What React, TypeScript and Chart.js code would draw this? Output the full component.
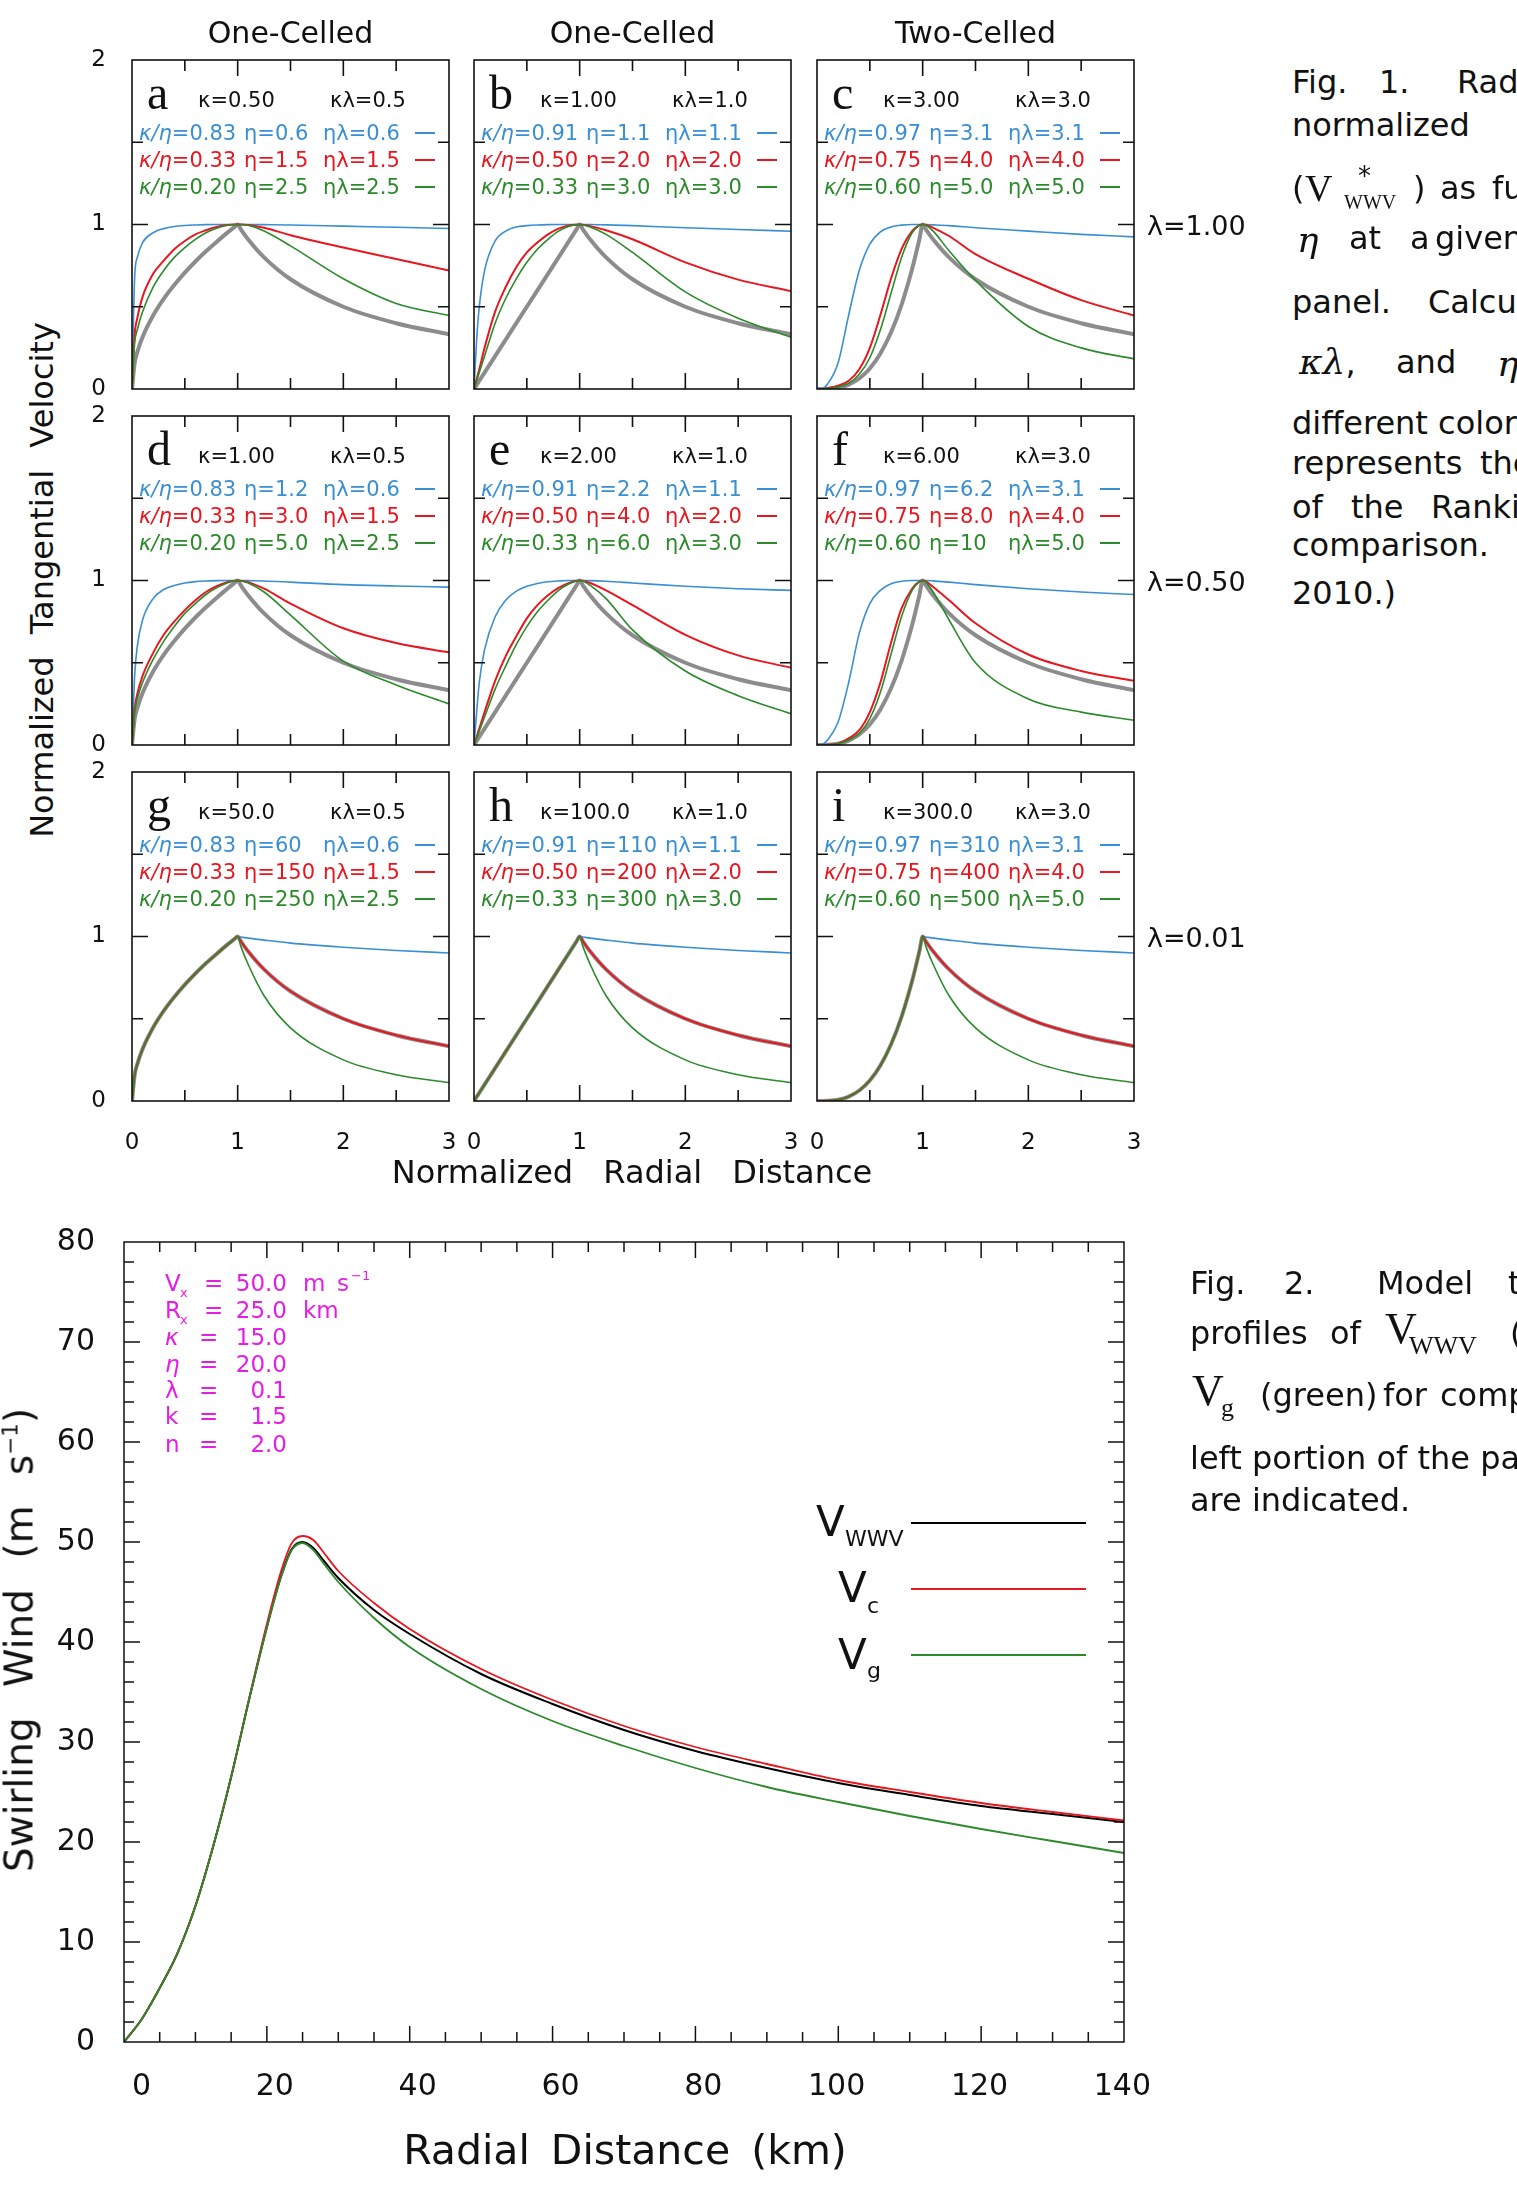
import React, { useEffect, useRef } from 'react';
import { Chart, registerables } from 'chart.js';
Chart.register(...registerables);

const SANS = '"DejaVu Sans", "Noto Sans", sans-serif';
const SERIF = '"Liberation Serif", "DejaVu Serif", serif';
const DSERIF = '"DejaVu Serif", "Liberation Serif", serif';
const BLUE = '#3a8fd2';
const RED = '#e8161e';
const GREEN = '#2c8a2c';
const GRAY = '#8c8c8c';
const MAGENTA = '#e41ee4';
const INK = '#111111';

// ---------- Fig. 1 data (normalized radius grid) ----------
const R_GRID = [0, 0.025, 0.05, 0.1, 0.2, 0.3, 0.4, 0.5, 0.6, 0.7, 0.8, 0.9, 0.97, 1, 1.03, 1.1, 1.25, 1.5, 2, 2.5, 3];

const GRAY_A = [0, 0.158, 0.224, 0.316, 0.447, 0.548, 0.632, 0.707, 0.775, 0.837, 0.894, 0.949, 0.985, 1, 0.971, 0.909, 0.8, 0.667, 0.5, 0.4, 0.333];
const GRAY_B = [0, 0.025, 0.05, 0.1, 0.2, 0.3, 0.4, 0.5, 0.6, 0.7, 0.8, 0.9, 0.97, 1, 0.971, 0.909, 0.8, 0.667, 0.5, 0.4, 0.333];
const GRAY_C = [0, 0, 0, 0.001, 0.008, 0.027, 0.064, 0.125, 0.216, 0.343, 0.512, 0.729, 0.913, 1, 0.971, 0.909, 0.8, 0.667, 0.5, 0.4, 0.333];

const A_BLUE = [0, 0.68, 0.8, 0.89, 0.95, 0.975, 0.988, 0.994, 0.997, 0.999, 1, 1, 1, 1, 1, 1, 0.999, 0.997, 0.99, 0.983, 0.976];
const A_RED = [0, 0.33, 0.43, 0.56, 0.7, 0.78, 0.85, 0.9, 0.94, 0.965, 0.985, 0.997, 1, 1, 1, 0.997, 0.98, 0.935, 0.86, 0.79, 0.72];
const A_GREEN = [0, 0.28, 0.36, 0.47, 0.62, 0.72, 0.8, 0.86, 0.91, 0.95, 0.977, 0.995, 1, 1, 1, 0.995, 0.96, 0.87, 0.67, 0.52, 0.447];

const B_BLUE = [0, 0.3, 0.5, 0.72, 0.9, 0.96, 0.985, 0.993, 0.997, 0.999, 1, 1, 1, 1, 1, 1, 0.998, 0.993, 0.98, 0.97, 0.959];
const B_RED = [0, 0.06, 0.12, 0.25, 0.47, 0.62, 0.74, 0.83, 0.89, 0.94, 0.975, 0.994, 0.999, 1, 0.999, 0.99, 0.965, 0.91, 0.77, 0.665, 0.595];
const B_GREEN = [0, 0.05, 0.1, 0.2, 0.4, 0.55, 0.67, 0.77, 0.85, 0.91, 0.96, 0.99, 0.999, 1, 0.998, 0.985, 0.94, 0.83, 0.59, 0.43, 0.315];

const C_BLUE = [0, 0, 0.002, 0.03, 0.16, 0.45, 0.72, 0.88, 0.955, 0.985, 0.996, 1, 1, 1, 1, 0.998, 0.993, 0.98, 0.96, 0.94, 0.925];
const C_RED = [0, 0, 0, 0.005, 0.02, 0.05, 0.12, 0.25, 0.45, 0.67, 0.85, 0.96, 0.996, 1, 0.998, 0.98, 0.93, 0.82, 0.67, 0.54, 0.447];
const C_GREEN = [0, 0, 0, 0.003, 0.012, 0.035, 0.09, 0.19, 0.36, 0.58, 0.8, 0.95, 0.995, 1, 0.995, 0.96, 0.84, 0.66, 0.38, 0.25, 0.183];

const D_BLUE = [0, 0.42, 0.6, 0.76, 0.89, 0.945, 0.97, 0.985, 0.993, 0.997, 0.999, 1, 1, 1, 1, 0.999, 0.997, 0.99, 0.975, 0.967, 0.96];
const D_RED = [0, 0.22, 0.31, 0.42, 0.56, 0.67, 0.75, 0.82, 0.88, 0.93, 0.965, 0.99, 0.999, 1, 0.999, 0.99, 0.95, 0.86, 0.71, 0.62, 0.563];
const D_GREEN = [0, 0.2, 0.28, 0.38, 0.52, 0.63, 0.72, 0.8, 0.86, 0.915, 0.955, 0.985, 0.998, 1, 0.998, 0.985, 0.93, 0.79, 0.51, 0.365, 0.25];

const E_BLUE = [0, 0.2, 0.38, 0.58, 0.78, 0.88, 0.935, 0.965, 0.982, 0.992, 0.997, 1, 1, 1, 1, 0.999, 0.995, 0.985, 0.965, 0.95, 0.94];
const E_RED = [0, 0.05, 0.1, 0.2, 0.39, 0.54, 0.66, 0.77, 0.85, 0.91, 0.955, 0.985, 0.998, 1, 0.998, 0.985, 0.94, 0.85, 0.67, 0.545, 0.47];
const E_GREEN = [0, 0.042, 0.085, 0.17, 0.34, 0.48, 0.61, 0.72, 0.81, 0.88, 0.94, 0.98, 0.997, 1, 0.997, 0.97, 0.89, 0.7, 0.45, 0.3, 0.19];

const F_BLUE = [0, 0, 0.003, 0.03, 0.14, 0.38, 0.68, 0.86, 0.94, 0.98, 0.995, 1, 1, 1, 1, 0.998, 0.99, 0.975, 0.95, 0.93, 0.915];
const F_RED = [0, 0, 0, 0.002, 0.01, 0.04, 0.09, 0.2, 0.38, 0.62, 0.83, 0.95, 0.995, 1, 0.995, 0.96, 0.88, 0.74, 0.55, 0.45, 0.39];
const F_GREEN = [0, 0, 0, 0.001, 0.007, 0.03, 0.07, 0.16, 0.32, 0.55, 0.78, 0.94, 0.993, 1, 0.99, 0.93, 0.76, 0.5, 0.28, 0.2, 0.15];

const G_BLUE = [0, 0.158, 0.224, 0.316, 0.447, 0.548, 0.632, 0.707, 0.775, 0.837, 0.894, 0.949, 0.985, 1, 0.997, 0.99, 0.978, 0.96, 0.935, 0.915, 0.9];
const G_RED = [0, 0.158, 0.224, 0.316, 0.447, 0.548, 0.632, 0.707, 0.775, 0.837, 0.894, 0.949, 0.985, 1, 0.971, 0.909, 0.8, 0.667, 0.5, 0.4, 0.333];
const G_GREEN = [0, 0.158, 0.224, 0.316, 0.447, 0.548, 0.632, 0.707, 0.775, 0.837, 0.894, 0.949, 0.985, 1, 0.94, 0.83, 0.64, 0.445, 0.25, 0.16, 0.112];

const H_BLUE = [0, 0.025, 0.05, 0.1, 0.2, 0.3, 0.4, 0.5, 0.6, 0.7, 0.8, 0.9, 0.97, 1, 0.997, 0.99, 0.978, 0.96, 0.935, 0.915, 0.9];
const H_RED = [0, 0.025, 0.05, 0.1, 0.2, 0.3, 0.4, 0.5, 0.6, 0.7, 0.8, 0.9, 0.97, 1, 0.971, 0.909, 0.8, 0.667, 0.5, 0.4, 0.333];
const H_GREEN = [0, 0.025, 0.05, 0.1, 0.2, 0.3, 0.4, 0.5, 0.6, 0.7, 0.8, 0.9, 0.97, 1, 0.94, 0.83, 0.64, 0.445, 0.25, 0.16, 0.112];

const I_BLUE = [0, 0, 0, 0.001, 0.008, 0.027, 0.064, 0.125, 0.216, 0.343, 0.512, 0.729, 0.913, 1, 0.997, 0.99, 0.978, 0.96, 0.935, 0.915, 0.9];
const I_RED = [0, 0, 0, 0.001, 0.008, 0.027, 0.064, 0.125, 0.216, 0.343, 0.512, 0.729, 0.913, 1, 0.971, 0.909, 0.8, 0.667, 0.5, 0.4, 0.333];
const I_GREEN = [0, 0, 0, 0.001, 0.008, 0.027, 0.064, 0.125, 0.216, 0.343, 0.512, 0.729, 0.913, 1, 0.94, 0.83, 0.64, 0.445, 0.25, 0.16, 0.112];

const PANEL_CURVES = [
  [GRAY_A, A_BLUE, A_RED, A_GREEN],
  [GRAY_B, B_BLUE, B_RED, B_GREEN],
  [GRAY_C, C_BLUE, C_RED, C_GREEN],
  [GRAY_A, D_BLUE, D_RED, D_GREEN],
  [GRAY_B, E_BLUE, E_RED, E_GREEN],
  [GRAY_C, F_BLUE, F_RED, F_GREEN],
  [GRAY_A, G_BLUE, G_RED, G_GREEN],
  [GRAY_B, H_BLUE, H_RED, H_GREEN],
  [GRAY_C, I_BLUE, I_RED, I_GREEN],
];

const PANEL_LETTERS = ['a', 'b', 'c', 'd', 'e', 'f', 'g', 'h', 'i'];
const PANEL_KAPPA = ['0.50', '1.00', '3.00', '1.00', '2.00', '6.00', '50.0', '100.0', '300.0'];
const PANEL_KL = ['0.5', '1.0', '3.0', '0.5', '1.0', '3.0', '0.5', '1.0', '3.0'];
const COL_K_ETA = [['0.83', '0.33', '0.20'], ['0.91', '0.50', '0.33'], ['0.97', '0.75', '0.60']];
const COL_ETA_L = [['0.6', '1.5', '2.5'], ['1.1', '2.0', '3.0'], ['3.1', '4.0', '5.0']];
const PANEL_ETA = [
  ['0.6', '1.5', '2.5'], ['1.1', '2.0', '3.0'], ['3.1', '4.0', '5.0'],
  ['1.2', '3.0', '5.0'], ['2.2', '4.0', '6.0'], ['6.2', '8.0', '10'],
  ['60', '150', '250'], ['110', '200', '300'], ['310', '400', '500'],
];
const ROW_LAMBDA = ['1.00', '0.50', '0.01'];
const COL_TITLES = ['One-Celled', 'One-Celled', 'Two-Celled'];

// ---------- Fig. 2 data ----------
const R_KM = [0, 2.5, 5, 7.5, 10, 12.5, 15, 17.5, 20, 22, 23.5, 25, 26.5, 28, 30, 35, 40, 50, 60, 70, 80, 90, 100, 110, 120, 130, 140];
const V_WWV = [0, 2.3, 5.4, 8.9, 13.6, 19.6, 26.5, 34.2, 41.5, 46.6, 49.3, 50.0, 49.4, 48.1, 46.4, 43.2, 40.8, 36.8, 33.8, 31.2, 29.1, 27.4, 25.9, 24.7, 23.6, 22.8, 22.0];
const V_C = [0, 2.3, 5.4, 8.9, 13.6, 19.6, 26.5, 34.3, 41.8, 47.1, 49.9, 50.6, 50.2, 48.9, 47.1, 43.9, 41.3, 37.3, 34.2, 31.6, 29.5, 27.8, 26.2, 25.0, 23.9, 23.0, 22.15];
const V_G = [0, 2.3, 5.4, 8.9, 13.6, 19.6, 26.5, 34.2, 41.4, 46.5, 49.2, 49.9, 49.2, 47.8, 46.0, 42.4, 39.5, 35.3, 32.1, 29.6, 27.4, 25.5, 24.0, 22.6, 21.3, 20.1, 18.9];
const PARAM_SYMBOLS = ['V', 'R', 'κ', 'η', 'λ', 'k', 'n'];
const PARAM_VALUES = ['50.0', '25.0', '15.0', '20.0', '0.1', '1.5', '2.0'];

// ---------- layout ----------
const COLS_X = [132, 474, 817];
const ROWS_Y = [60, 416, 772];
const PW = 317;
const PH = 329;

function frameTicks(xMaj: number[], xMin: number[], yMaj: number[], yMin: number[], lMaj: number, lMin: number, lw: number) {
  return {
    id: 'frameTicks',
    afterDatasetsDraw(chart: any) {
      const { ctx, chartArea: a } = chart;
      const xs = chart.scales.x;
      const ys = chart.scales.y;
      ctx.save();
      ctx.strokeStyle = INK;
      ctx.lineWidth = lw;
      ctx.beginPath();
      const tx = (v: number, L: number) => {
        const p = xs.getPixelForValue(v);
        ctx.moveTo(p, a.bottom); ctx.lineTo(p, a.bottom - L);
        ctx.moveTo(p, a.top); ctx.lineTo(p, a.top + L);
      };
      const ty = (v: number, L: number) => {
        const p = ys.getPixelForValue(v);
        ctx.moveTo(a.left, p); ctx.lineTo(a.left + L, p);
        ctx.moveTo(a.right, p); ctx.lineTo(a.right - L, p);
      };
      xMaj.forEach((v) => tx(v, lMaj));
      xMin.forEach((v) => tx(v, lMin));
      yMaj.forEach((v) => ty(v, lMaj));
      yMin.forEach((v) => ty(v, lMin));
      ctx.stroke();
      ctx.strokeRect(a.left, a.top, a.right - a.left, a.bottom - a.top);
      ctx.restore();
    },
  };
}

function ChartCanvas({ left, top, width, height, make }: { left: number; top: number; width: number; height: number; make: () => any }) {
  const ref = useRef<HTMLCanvasElement>(null);
  useEffect(() => {
    const chart = new Chart(ref.current as HTMLCanvasElement, make());
    return () => chart.destroy();
  }, []);
  return <canvas ref={ref} width={width} height={height} style={{ position: 'absolute', left, top, width, height }} />;
}

function panelConfig(curves: number[][], showX: boolean, showY: boolean, L: number, T: number, R: number, B: number) {
  const styles = [
    { c: GRAY, w: 4 },
    { c: BLUE, w: 1.6 },
    { c: RED, w: 2 },
    { c: GREEN, w: 1.6 },
  ];
  // Chart.js paints the first dataset on top, so list green first and gray last.
  const order = [3, 2, 1, 0];
  return {
    type: 'line',
    data: {
      datasets: order.map((k) => ({
        data: R_GRID.map((x, i) => ({ x, y: curves[k][i] })),
        borderColor: styles[k].c,
        borderWidth: styles[k].w,
        pointRadius: 0,
        fill: false,
        cubicInterpolationMode: 'monotone',
      })),
    },
    options: {
      responsive: false,
      animation: false,
      devicePixelRatio: 1,
      layout: { padding: { left: 0, top: T, right: R, bottom: 0 } },
      plugins: { legend: { display: false }, tooltip: { enabled: false } },
      scales: {
        x: {
          type: 'linear', min: 0, max: 3,
          grid: { display: false, drawTicks: false }, border: { display: false },
          ticks: { display: showX, stepSize: 1, padding: 28, color: INK, font: { family: SANS, size: 23 } },
          afterFit: (s: any) => { s.height = B; },
        },
        y: {
          type: 'linear', min: 0, max: 2,
          grid: { display: false, drawTicks: false }, border: { display: false },
          ticks: { display: showY, stepSize: 1, padding: 26, color: INK, font: { family: SANS, size: 23 } },
          afterFit: (s: any) => { s.width = L; },
        },
      },
    },
    plugins: [frameTicks([1, 2], [0.5, 1.5, 2.5], [1], [0.5, 1.5], 16, 11, 1.6)],
  };
}

function fig2Config(L: number, T: number, R: number, B: number) {
  const xMaj: number[] = [];
  const xMin: number[] = [];
  for (let v = 5; v < 140; v += 5) (v % 20 === 0 ? xMaj : xMin).push(v);
  const yMaj: number[] = [];
  const yMin: number[] = [];
  for (let v = 2; v < 80; v += 2) (v % 10 === 0 ? yMaj : yMin).push(v);
  // first dataset is painted on top
  const sets = [
    { d: V_G, c: GREEN, w: 1.8 },
    { d: V_C, c: RED, w: 1.8 },
    { d: V_WWV, c: '#000000', w: 2 },
  ];
  return {
    type: 'line',
    data: {
      datasets: sets.map((s) => ({
        data: R_KM.map((x, i) => ({ x, y: s.d[i] })),
        borderColor: s.c,
        borderWidth: s.w,
        pointRadius: 0,
        fill: false,
        cubicInterpolationMode: 'monotone',
      })),
    },
    options: {
      responsive: false,
      animation: false,
      devicePixelRatio: 1,
      layout: { padding: { left: 0, top: T, right: R, bottom: 0 } },
      plugins: { legend: { display: false }, tooltip: { enabled: false } },
      scales: {
        x: {
          type: 'linear', min: 0, max: 140,
          grid: { display: false, drawTicks: false }, border: { display: false },
          ticks: { stepSize: 20, align: 'end', labelOffset: 27, padding: 27, color: INK, font: { family: SANS, size: 30 } },
          afterFit: (s: any) => { s.height = B; },
        },
        y: {
          type: 'linear', min: 0, max: 80,
          grid: { display: false, drawTicks: false }, border: { display: false },
          ticks: { stepSize: 10, padding: 29, color: INK, font: { family: SANS, size: 30 } },
          afterFit: (s: any) => { s.width = L; },
        },
      },
    },
    plugins: [frameTicks(xMaj, xMin, yMaj, yMin, 16, 10, 1.5)],
  };
}

type TxProps = { x: number; y: number; s: number; children: React.ReactNode; c?: string; f?: string; a?: 'l' | 'c' | 'r'; it?: boolean; ls?: number; ws?: number };
function Tx({ x, y, s, children, c = INK, f = SANS, a = 'l', it = false, ls, ws }: TxProps) {
  const tr = a === 'c' ? 'translateX(-50%)' : a === 'r' ? 'translateX(-100%)' : undefined;
  return (
    <div style={{ position: 'absolute', left: x, top: y - s / 2, fontSize: s, lineHeight: `${s}px`, fontFamily: f, color: c, whiteSpace: 'nowrap', fontStyle: it ? 'italic' : 'normal', letterSpacing: ls, wordSpacing: ws, transform: tr }}>
      {children}
    </div>
  );
}

function VTx({ x, y, s, children, ls, ws }: { x: number; y: number; s: number; children: React.ReactNode; ls?: number; ws?: number }) {
  return (
    <div style={{ position: 'absolute', left: x, top: y, fontSize: s, lineHeight: `${s}px`, fontFamily: SANS, color: INK, whiteSpace: 'nowrap', letterSpacing: ls, wordSpacing: ws, transform: 'translate(-50%, -50%) rotate(-90deg)' }}>
      {children}
    </div>
  );
}

function Dash({ x, y, w, h, c }: { x: number; y: number; w: number; h: number; c: string }) {
  return <div style={{ position: 'absolute', left: x, top: y - h / 2, width: w, height: h, background: c }} />;
}

function PanelText({ idx }: { idx: number }) {
  const row = Math.floor(idx / 3);
  const col = idx % 3;
  const px = COLS_X[col];
  const py = ROWS_Y[row];
  const colors = [BLUE, RED, GREEN];
  return (
    <>
      <Tx x={px + 15} y={py + 49 - 0.3375 * 48} s={48} f={SERIF}>{PANEL_LETTERS[idx]}</Tx>
      <Tx x={px + 66} y={py + 40} s={21}>κ={PANEL_KAPPA[idx]}</Tx>
      <Tx x={px + 198} y={py + 40} s={21}>κλ={PANEL_KL[idx]}</Tx>
      {colors.map((c, k) => (
        <React.Fragment key={k}>
          <Tx x={px + 7} y={py + 73 + 27 * k} s={21} c={c}><span style={{ fontStyle: 'italic' }}>κ/η</span>={COL_K_ETA[col][k]}</Tx>
          <Tx x={px + 112} y={py + 73 + 27 * k} s={21} c={c}>η={PANEL_ETA[idx][k]}</Tx>
          <Tx x={px + 191} y={py + 73 + 27 * k} s={21} c={c}>ηλ={COL_ETA_L[col][k]}</Tx>
          <Dash x={px + 283} y={py + 73 + 27 * k} w={20} h={row === 2 && k === 2 ? 1.2 : 2.2} c={c} />
        </React.Fragment>
      ))}
    </>
  );
}

export default function App() {
  const panels = [];
  for (let idx = 0; idx < 9; idx++) {
    const row = Math.floor(idx / 3);
    const col = idx % 3;
    const L = col === 0 ? 60 : 45;
    const T = 48;
    const R = 45;
    const B = row === 2 ? 75 : 48;
    const left = COLS_X[col] - L;
    const top = ROWS_Y[row] - T;
    panels.push(
      <ChartCanvas key={`p${idx}`} left={left} top={top} width={L + PW + R} height={T + PH + B}
        make={() => panelConfig(PANEL_CURVES[idx], row === 2, col === 0, L, T, R, B)} />,
    );
  }
  const capW = (x: number, y: number, t: React.ReactNode, extra: Partial<TxProps> = {}) => (
    <Tx key={`${x}-${y}`} x={x} y={y} s={32} {...extra}>{t}</Tx>
  );
  const F2L = 94, F2T = 70, F2R = 80, F2B = 95;
  return (
    <div style={{ position: 'absolute', left: 0, top: 0, width: 1517, height: 2206, overflow: 'hidden', background: '#ffffff', fontFamily: SANS }}>
      {panels}
      {[0, 1, 2, 3, 4, 5, 6, 7, 8].map((i) => <PanelText key={`t${i}`} idx={i} />)}
      {COL_TITLES.map((t, c) => (
        <Tx key={`ct${c}`} x={COLS_X[c] + PW / 2} y={33} s={30} a="c">{t}</Tx>
      ))}
      {ROW_LAMBDA.map((l, r) => (
        <Tx key={`rl${r}`} x={1147} y={ROWS_Y[r] + 165} s={27}>λ={l}</Tx>
      ))}
      <VTx x={42} y={580} s={32} ws={12}>Normalized Tangential Velocity</VTx>
      <Tx x={632} y={1172} s={32} a="c" ws={20}>Normalized Radial Distance</Tx>

      {/* Fig. 1 caption (clipped at page edge) */}
      {capW(1292, 82, 'Fig.')}
      {capW(1379, 82, '1.')}
      {capW(1457, 82, 'Radial')}
      {capW(1292, 125, 'normalized')}
      {capW(1292, 188, '(')}
      <Tx x={1305} y={188} s={38} f={SERIF}>V</Tx>
      <Tx x={1358} y={176} s={26}>*</Tx>
      <Tx x={1344} y={202} s={20} f={SERIF}>WWV</Tx>
      {capW(1413, 188, ')')}
      {capW(1440, 188, 'as')}
      {capW(1492, 188, 'functions')}
      <Tx x={1297} y={240} s={36} f={DSERIF} it>η</Tx>
      {capW(1349, 238, 'at')}
      {capW(1410, 238, 'a')}
      {capW(1435, 238, 'given')}
      {capW(1292, 302, 'panel.')}
      {capW(1428, 302, 'Calculated')}
      <Tx x={1299} y={362} s={36} f={DSERIF} it>κλ<span style={{ fontStyle: 'normal', fontFamily: SANS, fontSize: 32 }}>,</span></Tx>
      {capW(1396, 362, 'and')}
      <Tx x={1497} y={364} s={36} f={DSERIF} it>ηλ</Tx>
      {capW(1292, 423, 'different colors')}
      {capW(1292, 463, 'represents')}
      {capW(1480, 463, 'the')}
      {capW(1292, 507, 'of')}
      {capW(1351, 507, 'the')}
      {capW(1431, 507, 'Rankine')}
      {capW(1292, 545, 'comparison.')}
      {capW(1292, 593, '2010.)')}

      {/* Fig. 2 */}
      <ChartCanvas left={124 - F2L} top={1242 - F2T} width={F2L + 1000 + F2R} height={F2T + 800 + F2B}
        make={() => fig2Config(F2L, F2T, F2R, F2B)} />
      {PARAM_SYMBOLS.map((sym, i) => {
        const y = [1283, 1310, 1337, 1364, 1390, 1416, 1444][i];
        return (
          <React.Fragment key={`ps${i}`}>
            <Tx x={165} y={y} s={23} c={MAGENTA} it={i === 2 || i === 3}>{sym}</Tx>
            {i < 2 && <Tx x={180} y={y + 9} s={13} c={MAGENTA}>x</Tx>}
            <Tx x={i < 2 ? 204 : 199} y={y} s={23} c={MAGENTA}>=</Tx>
            <Tx x={287} y={y} s={23} c={MAGENTA} a="r">{PARAM_VALUES[i]}</Tx>
          </React.Fragment>
        );
      })}
      <Tx x={303} y={1283} s={23} c={MAGENTA}>m</Tx>
      <Tx x={337} y={1283} s={23} c={MAGENTA}>s</Tx>
      <Tx x={351} y={1275} s={13} c={MAGENTA}>−1</Tx>
      <Tx x={303} y={1310} s={23} c={MAGENTA}>km</Tx>

      <Tx x={816} y={1522} s={42}>V</Tx>
      <Tx x={845} y={1539} s={22}>WWV</Tx>
      <Dash x={911} y={1523} w={175} h={2} c="#000000" />
      <Tx x={838} y={1588} s={42}>V</Tx>
      <Tx x={867} y={1606} s={22}>c</Tx>
      <Dash x={911} y={1589} w={175} h={1.6} c={RED} />
      <Tx x={838} y={1655} s={42}>V</Tx>
      <Tx x={867} y={1671} s={22}>g</Tx>
      <Dash x={911} y={1655} w={175} h={2} c={GREEN} />

      <VTx x={22} y={1640} s={39} ws={18}>Swirling Wind (m s<span style={{ fontSize: '0.55em', position: 'relative', top: '-0.7em' }}>−1</span>)</VTx>
      <Tx x={625} y={2150} s={41} a="c" ws={8}>Radial Distance (km)</Tx>

      {/* Fig. 2 caption (clipped) */}
      {capW(1190, 1283, 'Fig.')}
      {capW(1284, 1283, '2.')}
      {capW(1377, 1283, 'Model')}
      {capW(1508, 1283, 'tangential')}
      {capW(1190, 1333, 'profiles')}
      {capW(1330, 1333, 'of')}
      <Tx x={1385} y={1329} s={44} f={SERIF}>V</Tx>
      <Tx x={1409} y={1346} s={26} f={SERIF}>WWV</Tx>
      {capW(1510, 1333, '(black),')}
      <Tx x={1192} y={1391} s={44} f={SERIF}>V</Tx>
      <Tx x={1221} y={1408} s={26} f={SERIF}>g</Tx>
      {capW(1260, 1395, '(green)')}
      {capW(1383, 1395, 'for')}
      {capW(1440, 1395, 'comparison.')}
      {capW(1190, 1458, 'left portion of the panel')}
      {capW(1190, 1500, 'are indicated.')}
    </div>
  );
}
